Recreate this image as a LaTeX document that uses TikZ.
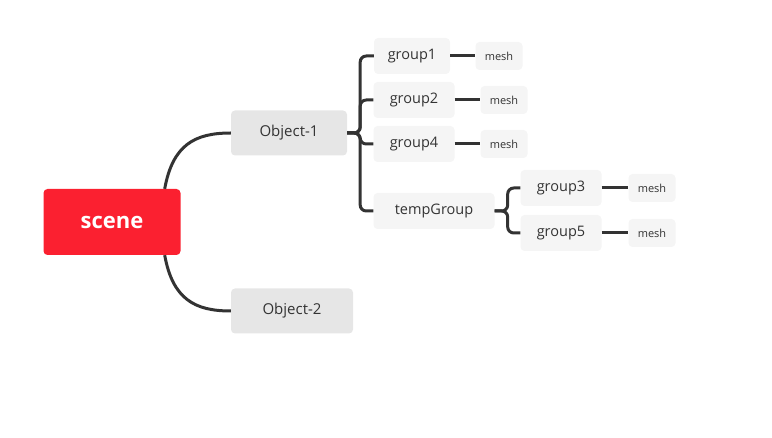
\documentclass[tikz,border=0pt]{standalone}
\usepackage{fontspec}
\setmainfont{Open Sans}
\usetikzlibrary{positioning}
\definecolor{scenered}{HTML}{FB2030}
\definecolor{linegray}{HTML}{333333}
\definecolor{boxgray}{HTML}{E6E6E6}
\definecolor{leafgray}{HTML}{F5F5F5}
\begin{document}
\begin{tikzpicture}[
 x=1pt, y=-1pt,
 root/.style={fill=scenered,text=white,rounded corners=4pt,minimum width=137pt,minimum height=66pt,font=\fontsize{22}{24}\selectfont\bfseries},
 object/.style={fill=boxgray,text=linegray,rounded corners=4pt,minimum height=45pt,font=\fontsize{15}{18}\selectfont},
 group/.style={fill=leafgray,text=linegray,rounded corners=4pt,minimum height=36pt,inner xsep=6pt,font=\fontsize{14.5}{17}\selectfont},
 meshbox/.style={fill=leafgray,text=linegray,rounded corners=4pt,minimum height=28pt,minimum width=47pt,inner xsep=3pt,font=\fontsize{11}{13}\selectfont},
 link/.style={draw=linegray,line width=3pt},
 bracket/.style={link,rounded corners=6pt},
]
\useasboundingbox (0,0) rectangle (772,438);

% Main topics
\node[root] (scene) at (112,222) {scene};
\node[object,minimum width=116pt] (obj1) at (289,133) {Object-1};
\node[object,minimum width=122pt] (obj2) at (292,311) {Object-2};

% Groups
\node[group,minimum width=76pt] (g1) at (412,56) {group1};
\node[group,minimum width=81pt] (g2) at (414,100) {group2};
\node[group,minimum width=81pt] (g4) at (414,144) {group4};
\node[group,minimum width=121pt] (temp) at (434,211) {tempGroup};
\node[group,minimum width=81pt] (g3) at (561,188) {group3};
\node[group,minimum width=81pt] (g5) at (561,233) {group5};

% Meshes
\node[meshbox] (m1) at (499,56) {mesh};
\node[meshbox] (m2) at (504,100) {mesh};
\node[meshbox] (m4) at (504,144) {mesh};
\node[meshbox] (m3) at (652,188) {mesh};
\node[meshbox] (m5) at (652,233) {mesh};

% Connectors
\draw[link] ([xshift=-16pt]scene.north east) .. controls +(8,-44) and +(-36,0) .. (obj1.west);
\draw[link] ([xshift=-16pt]scene.south east) .. controls +(8,44) and +(-36,0) .. (obj2.west);

\foreach \child in {g1,g2,g4,temp}
    \draw[bracket] (obj1.east) -- ++(13,0) |- (\child.west);
\foreach \child in {g3,g5}
    \draw[bracket] (temp.east) -- ++(13,0) |- (\child.west);

\foreach \grp/\leaf in {g1/m1,g2/m2,g4/m4,g3/m3,g5/m5}
    \draw[link] (\grp.east) -- (\leaf.west);

\end{tikzpicture}
\end{document}
